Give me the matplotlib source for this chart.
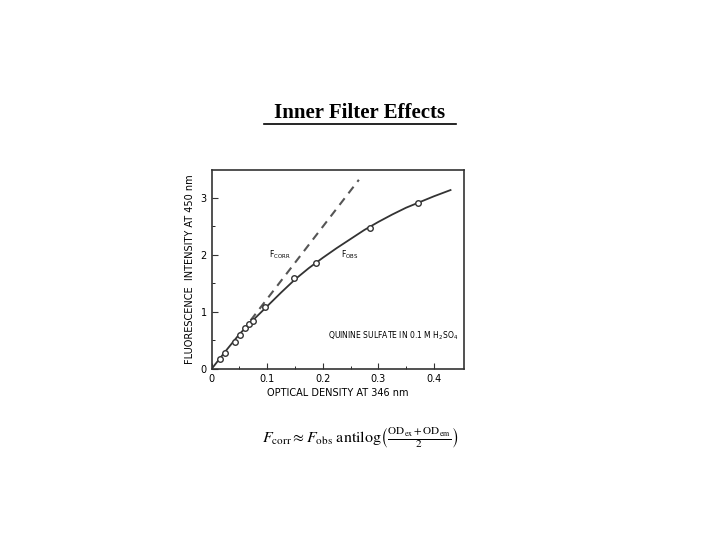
import matplotlib.pyplot as plt

# measured points
od_points = [0.0145, 0.024, 0.042, 0.051, 0.060, 0.067, 0.075, 0.096, 0.149, 0.187, 0.285, 0.372]
f_points = [0.18, 0.27, 0.47, 0.59, 0.72, 0.79, 0.84, 1.08, 1.60, 1.85, 2.48, 2.91]

# observed curve (smooth line)
od_curve = [0, 0.025, 0.05, 0.075, 0.1, 0.125, 0.15, 0.175, 0.2, 0.225, 0.25, 0.275,
            0.3, 0.325, 0.35, 0.375, 0.4, 0.43]
f_curve = [0, 0.31, 0.61, 0.86, 1.10, 1.34, 1.57, 1.77, 1.95, 2.12, 2.28, 2.44,
           2.58, 2.71, 2.83, 2.93, 3.03, 3.14]

# corrected (dashed) line
od_corr = [0.07, 0.265]
f_corr = [0.85, 3.32]

fig = plt.figure(figsize=(7.2, 5.4), dpi=100)
ax = fig.add_axes([0.294, 0.317, 0.351, 0.369])

ax.plot(od_curve, f_curve, color='#333333', lw=1.3)
ax.plot(od_corr, f_corr, color='#555555', lw=1.5, ls=(0, (4, 3)))
ax.plot(od_points, f_points, 'o', mfc='white', mec='#333333', ms=4, mew=1)

ax.set_xlim(0, 0.455)
ax.set_ylim(0, 3.5)
ax.set_xticks([0, 0.1, 0.2, 0.3, 0.4])
ax.set_xticklabels(['0', '0.1', '0.2', '0.3', '0.4'])
ax.set_yticks([0, 1, 2, 3])
ax.set_xticks([0.05, 0.15, 0.25, 0.35], minor=True)
ax.set_yticks([0.5, 1.5, 2.5], minor=True)
ax.tick_params(labelsize=7, direction='in', length=4, color='#333333')
ax.tick_params(which='minor', direction='in', length=2.5)
for s in ax.spines.values():
    s.set_linewidth(1.2)
    s.set_color('#333333')

ax.set_xlabel('OPTICAL DENSITY AT 346 nm', fontsize=7, labelpad=3)
ax.set_ylabel('FLUORESCENCE  INTENSITY AT 450 nm', fontsize=7, labelpad=4)

ax.text(0.104, 1.95, r'F$_{\rm CORR}$', fontsize=5.5)
ax.text(0.232, 1.95, r'F$_{\rm OBS}$', fontsize=5.5)
ax.text(0.21, 0.53, r'QUININE SULFATE IN 0.1 M H$_2$SO$_4$', fontsize=5.5)

fig.text(0.5, 0.79, 'Inner Filter Effects', ha='center', va='center',
         fontsize=15, fontweight='bold', family='Liberation Serif')
fig.add_artist(plt.Line2D([0.366, 0.634], [0.77, 0.77], color='black', lw=1.2))

fig.text(0.5, 0.19,
         r'$F_{\rm corr} \approx F_{\rm obs}\ \mathrm{antilog}\left(\frac{\mathrm{OD_{ex}+OD_{em}}}{2}\right)$',
         ha='center', va='center', fontsize=11.5, math_fontfamily='stix')

fig.savefig('out.png', dpi=100)
